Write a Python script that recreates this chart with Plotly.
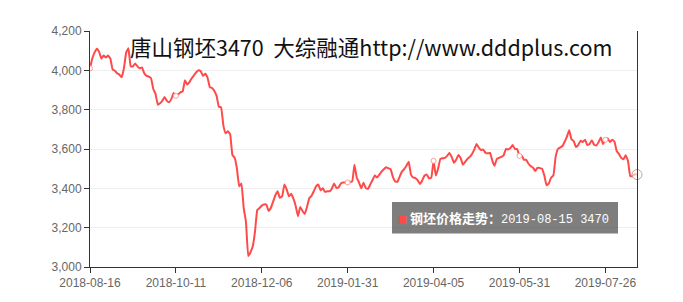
import plotly.graph_objects as go

title_text = "唐山钢坯3470  大综融通http://www.dddplus.com"
series_name = "钢坯价格走势"
tick_labels = ["2018-08-16", "2018-10-11", "2018-12-06", "2019-01-31",
               "2019-04-05", "2019-05-31", "2019-07-26"]
tick_index = [0, 38, 76, 114, 152, 190, 228]
last_date = "2019-08-15"

prices = [
    4010, 4060, 4090, 4110, 4095, 4060, 4075, 4065, 4075, 4060,
    4005, 3998, 3985, 3978, 3965, 4010, 4090, 4112, 4020, 4020,
    4035, 4020, 4010, 4015, 3985, 3972, 3968, 3960, 3905, 3880,
    3825, 3833, 3845, 3865, 3845, 3838, 3855, 3885, 3870, 3878,
    3888, 3893, 3950, 3928, 3940, 3960, 3975, 3990, 4000, 3995,
    3972, 3983, 3963, 3915, 3910, 3895, 3870, 3815, 3812, 3720,
    3680, 3690, 3675, 3570, 3555, 3500, 3410, 3425, 3300, 3230,
    3055, 3075, 3105, 3180, 3290, 3300, 3312, 3318, 3318, 3285,
    3300, 3332, 3365, 3385, 3352, 3360, 3420, 3395, 3360, 3372,
    3348, 3310, 3258, 3305, 3285, 3270, 3305, 3350, 3362, 3385,
    3410, 3420, 3390, 3400, 3382, 3385, 3385, 3398, 3425, 3402,
    3405, 3425, 3430, 3430, 3430, 3432, 3435, 3520, 3455, 3430,
    3400, 3428, 3402, 3397, 3420, 3442, 3465, 3455, 3470, 3485,
    3497, 3507, 3502, 3497, 3458, 3435, 3433, 3460, 3485, 3498,
    3515, 3535, 3470, 3455, 3452, 3440, 3422, 3440, 3465, 3470,
    3450, 3455, 3540, 3465, 3500, 3550, 3553, 3555, 3565, 3580,
    3560, 3530, 3545, 3570, 3553, 3520, 3535, 3550, 3560, 3575,
    3597, 3625, 3607, 3595, 3597, 3580, 3578, 3580, 3540, 3515,
    3550, 3555, 3560, 3568, 3600, 3598, 3605, 3620, 3600, 3600,
    3565, 3566, 3545, 3545, 3525, 3513, 3505, 3488, 3505, 3503,
    3500, 3465, 3415, 3425, 3455, 3465, 3560, 3600, 3608, 3615,
    3637, 3663, 3695, 3650, 3640, 3610, 3620, 3642, 3635, 3647,
    3620, 3625, 3645, 3622, 3618, 3635, 3658, 3625, 3647, 3655,
    3635, 3647, 3638, 3590, 3575, 3555, 3548, 3568, 3540, 3463,
    3463, 3472, 3470,
]
y_ticks = [3000, 3200, 3400, 3600, 3800, 4000, 4200]

idx = list(range(len(prices)))
line_color = "#ff4a4a"

fig = go.Figure()
fig.add_trace(go.Scatter(
    x=idx, y=prices, mode="lines", name=series_name,
    line=dict(color=line_color, width=2, shape="spline", smoothing=0.3),
    hoverinfo="skip",
))
# symbols shown at label positions
sym_x = [i for i in tick_index if i not in (76,)]
fig.add_trace(go.Scatter(
    x=sym_x, y=[prices[i] for i in sym_x], mode="markers",
    marker=dict(size=5, color="white", line=dict(color="#f7a0a0", width=1)),
    hoverinfo="skip",
))
# emphasised last point
last = len(prices) - 1
fig.add_trace(go.Scatter(
    x=[last], y=[prices[last]], mode="markers",
    marker=dict(size=10, color="rgba(255,255,255,0.6)", line=dict(color="#c8a08c", width=1)),
    hoverinfo="skip", cliponaxis=False,
))

fig.update_layout(
    width=683, height=302,
    margin=dict(l=90, r=46, t=31, b=31),
    paper_bgcolor="white", plot_bgcolor="white",
    showlegend=False,
    font=dict(family="Noto Sans CJK SC, sans-serif", color="#666"),
    xaxis=dict(
        range=[0, last], tickmode="array", tickvals=tick_index, ticktext=tick_labels,
        showgrid=False, zeroline=False, showline=True, linecolor="#333", linewidth=1,
        ticks="outside", ticklen=5, tickcolor="#333",
        tickfont=dict(family="Liberation Sans, Arial, sans-serif", size=12, color="#666"),
    ),
    yaxis=dict(
        range=[3000, 4200], tickmode="array", tickvals=y_ticks,
        ticktext=[f"{v:,}" for v in y_ticks],
        showgrid=True, gridcolor="#eeeeee", zeroline=False,
        showline=True, linecolor="#333", linewidth=1, mirror=True,
        ticks="outside", ticklen=5, tickcolor="#333",
        tickfont=dict(family="Liberation Sans, Arial, sans-serif", size=12, color="#666"),
    ),
)

fig.add_annotation(
    xref="paper", yref="paper", x=(371 - 90) / 547, y=(271 - 47) / 240,
    text=title_text, showarrow=False, xanchor="center", yanchor="middle",
    font=dict(family="Noto Sans CJK SC", size=21.5, color="#111"),
)

# tooltip box
fig.add_shape(
    type="rect", xref="paper", yref="paper",
    x0=(392 - 90) / 547, x1=(618 - 90) / 547,
    y0=(271 - 237) / 240, y1=(271 - 205) / 240,
    fillcolor="rgba(90,90,90,0.78)", line=dict(width=0), layer="above",
)
fig.add_annotation(
    xref="paper", yref="paper", x=(396 - 90) / 547, y=(271 - 221) / 240,
    xanchor="left", yanchor="middle", showarrow=False,
    text=("<span style='color:#ff4a4a;font-size:9px'>■</span> "
          f"<b>{series_name}：</b>"
          f"<span style='font-family:\"Liberation Mono\",\"DejaVu Sans Mono\",monospace;font-size:12px'>{last_date} {prices[last]}</span>"),
    font=dict(family="Noto Sans CJK SC", size=13, color="white"),
)

fig.write_html("out.html")
